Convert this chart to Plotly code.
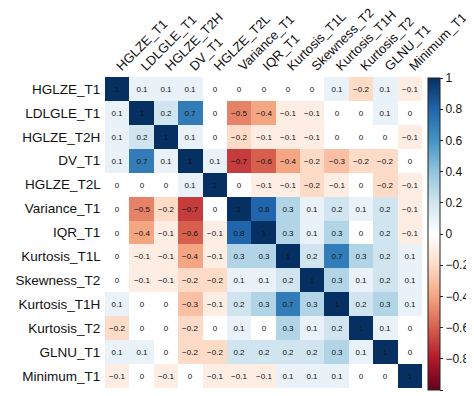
import plotly.graph_objects as go

labels = ["HGLZE_T1", "LDLGLE_T1", "HGLZE_T2H", "DV_T1", "HGLZE_T2L", "Variance_T1",
          "IQR_T1", "Kurtosis_T1L", "Skewness_T2", "Kurtosis_T1H", "Kurtosis_T2",
          "GLNU_T1", "Minimum_T1"]

corr = [
    [1, 0.1, 0.1, 0.1, 0, 0, 0, 0, 0, 0.1, -0.2, 0.1, -0.1],
    [0.1, 1, 0.2, 0.7, 0, -0.5, -0.4, -0.1, -0.1, 0, 0, 0.1, 0],
    [0.1, 0.2, 1, 0.1, 0, -0.2, -0.1, -0.1, -0.1, 0, 0, 0, -0.1],
    [0.1, 0.7, 0.1, 1, 0.1, -0.7, -0.6, -0.4, -0.2, -0.3, -0.2, -0.2, 0],
    [0, 0, 0, 0.1, 1, 0, -0.1, -0.1, -0.2, -0.1, 0, -0.2, -0.1],
    [0, -0.5, -0.2, -0.7, 0, 1, 0.8, 0.3, 0.1, 0.2, 0.1, 0.2, -0.1],
    [0, -0.4, -0.1, -0.6, -0.1, 0.8, 1, 0.3, 0.1, 0.3, 0, 0.2, -0.1],
    [0, -0.1, -0.1, -0.4, -0.1, 0.3, 0.3, 1, 0.2, 0.7, 0.3, 0.2, 0.1],
    [0, -0.1, -0.1, -0.2, -0.2, 0.1, 0.1, 0.2, 1, 0.3, 0.1, 0.2, 0.1],
    [0.1, 0, 0, -0.3, -0.1, 0.2, 0.3, 0.7, 0.3, 1, 0.2, 0.3, 0.1],
    [-0.2, 0, 0, -0.2, 0, 0.1, 0, 0.3, 0.1, 0.2, 1, 0.1, 0],
    [0.1, 0.1, 0, -0.2, -0.2, 0.2, 0.2, 0.2, 0.2, 0.3, 0.1, 1, 0],
    [-0.1, 0, -0.1, 0, -0.1, -0.1, -0.1, 0.1, 0.1, 0.1, 0, 0, 1],
]

cbar_ticks = [-1, -0.8, -0.6, -0.4, -0.2, 0, 0.2, 0.4, 0.6, 0.8, 1]
cbar_text = ["\u22121", "\u22120.8", "\u22120.6", "\u22120.4", "\u22120.2", "0",
             "0.2", "0.4", "0.6", "0.8", "1"]

rdbu = ["#67001F", "#B2182B", "#D6604D", "#F4A582", "#FDDBC7", "#FFFFFF",
        "#D1E5F0", "#92C5DE", "#4393C3", "#2166AC", "#053061"]
colorscale = [[i / 10, c] for i, c in enumerate(rdbu)]

cell_text = [[("\u2212" + str(abs(v)) if v < 0 else ("1" if v == 1 else str(v))) for v in row]
             for row in corr]

fig = go.Figure(go.Heatmap(
    z=corr, x=labels, y=labels,
    zmin=-1, zmax=1, colorscale=colorscale,
    text=cell_text, texttemplate="%{text}",
    textfont=dict(size=8, color="#111111", family="Liberation Sans, Arial"),
    hoverinfo="skip",
    colorbar=dict(
        tickmode="array", tickvals=cbar_ticks, ticktext=cbar_text,
        thickness=12, thicknessmode="pixels",
        lenmode="fraction", len=1.003,
        x=1.0, xanchor="left", xpad=6,
        y=0.495, yanchor="middle", ypad=0,
        ticks="outside", ticklen=3, tickcolor="#222",
        outlinewidth=1, outlinecolor="#222",
        tickfont=dict(size=12, color="#111", family="Liberation Sans, Arial"),
    ),
))

fig.update_layout(
    width=466, height=388,
    margin=dict(l=97, r=52, t=69, b=8, autoexpand=False),
    paper_bgcolor="white", plot_bgcolor="white",
    xaxis=dict(side="top", tickangle=-45, showgrid=False, zeroline=False, automargin=False,
               ticks="", tickfont=dict(size=13, color="#111", family="Liberation Sans, Arial")),
    yaxis=dict(autorange="reversed", showgrid=False, zeroline=False, ticks="", automargin=False,
               ticksuffix=" ",
               tickfont=dict(size=13.5, color="#111", family="Liberation Sans, Arial")),
)

fig.write_html("out.html")
